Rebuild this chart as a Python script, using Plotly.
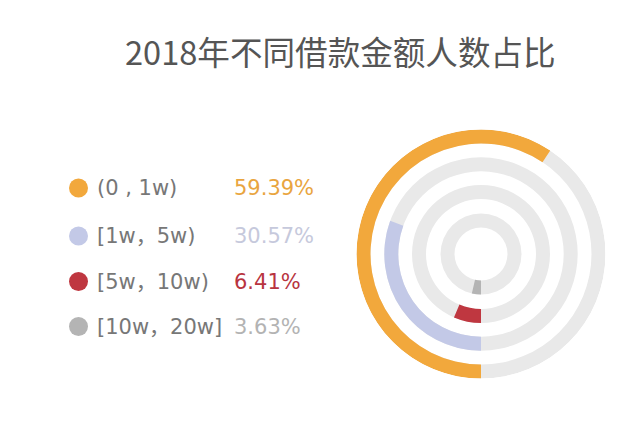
import plotly.graph_objects as go

# Data
categories = ["(0 , 1w)", "[1w，5w)", "[5w，10w)", "[10w，20w]"]
percents = [59.39, 30.57, 6.41, 3.63]
pct_labels = ["59.39%", "30.57%", "6.41%", "3.63%"]
colors = ["#f2a83c", "#c3c9e7", "#bf3740", "#b4b4b4"]
text_colors = ["#e9a53f", "#c6c9dc", "#b8343f", "#b3b3b3"]
track_color = "#e9e9e9"

# ring geometry (radial units = px)
outer_r = [124.5, 96.7, 69.0, 40.5]
thickness = 14

W, H = 622, 428
cx, cy, R = 481, 254, 124.5

fig = go.Figure()

for i, (p, c) in enumerate(zip(percents, colors)):
    base = outer_r[i] - thickness
    fig.add_trace(go.Barpolar(
        r=[thickness], base=[base], theta=[180], width=[360],
        marker=dict(color=track_color, line=dict(width=0)),
        hoverinfo="skip", showlegend=False))
    deg = p / 100 * 360
    fig.add_trace(go.Barpolar(
        r=[thickness], base=[base], theta=[deg / 2], width=[deg],
        marker=dict(color=c, line=dict(width=0)),
        name=categories[i], showlegend=False))

fig.update_layout(
    width=W, height=H,
    margin=dict(l=0, r=0, t=0, b=0),
    paper_bgcolor="white", plot_bgcolor="white",
    polar=dict(
        domain=dict(x=[(cx - R) / W, (cx + R) / W],
                    y=[(H - cy - R) / H, (H - cy + R) / H]),
        bgcolor="white",
        radialaxis=dict(range=[0, R], visible=False, showgrid=False),
        angularaxis=dict(rotation=270, direction="clockwise", visible=False,
                         showgrid=False, showline=False, showticklabels=False,
                         ticks=""),
        bargap=0,
    ),
    xaxis=dict(range=[0, W], visible=False, domain=[0, 1], fixedrange=True),
    yaxis=dict(range=[H, 0], visible=False, domain=[0, 1], fixedrange=True),
    showlegend=False,
)

row_y = [188, 236, 281.5, 326.5]
fig.add_trace(go.Scatter(
    x=[78.5] * 4, y=row_y, mode="markers",
    marker=dict(size=19, color=colors, line=dict(width=0)),
    hoverinfo="skip", showlegend=False, xaxis="x", yaxis="y"))

legend_font = "DejaVu Sans, Noto Sans CJK SC"
for i in range(4):
    fig.add_annotation(x=95 / W, y=1 - row_y[i] / H, xref="paper", yref="paper",
                       xanchor="left", yanchor="middle", showarrow=False,
                       text=categories[i],
                       font=dict(family=legend_font, size=21, color="#777777"))
    fig.add_annotation(x=232 / W, y=1 - row_y[i] / H, xref="paper", yref="paper",
                       xanchor="left", yanchor="middle", showarrow=False,
                       text=pct_labels[i],
                       font=dict(family=legend_font, size=21, color=text_colors[i]))

fig.add_annotation(x=340 / W, y=1 - 51 / H, xref="paper", yref="paper",
                   xanchor="center", yanchor="middle", showarrow=False,
                   text="2018年不同借款金额人数占比",
                   font=dict(family="Noto Sans CJK SC", size=32.6, color="#555555"))

fig.write_html("out.html")
